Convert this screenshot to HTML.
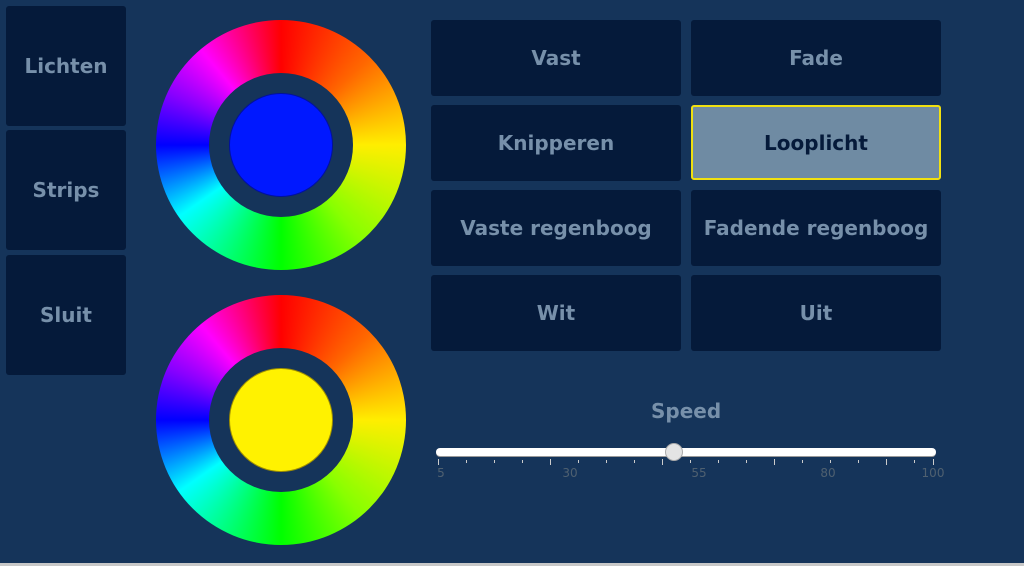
<!DOCTYPE html>
<html><head><style>
body{margin:0;width:1024px;height:566px;background:#15345a;position:relative;overflow:hidden;font-family:"DejaVu Sans","Liberation Sans",sans-serif;font-weight:bold;}
.b{position:absolute;background:#051a3a;border-radius:3px;color:#7790aa;font-size:20px;display:flex;align-items:center;justify-content:center;box-sizing:border-box;}
.w{position:absolute;width:250px;height:250px;border-radius:50%;background:conic-gradient(#f00,#f60 45deg,#fe0 90deg,#8f0 140deg,#0f0 180deg,#0ff 235deg,#00f 270deg,#80f 295deg,#f0f 320deg,#f00 360deg);}
.w::before{content:"";position:absolute;left:53px;top:53px;width:144px;height:144px;border-radius:50%;background:#15345a;}
.c{position:absolute;width:104px;height:104px;border-radius:50%;}
.t{position:absolute;font-size:12px;font-weight:normal;color:#4f6070;transform:translateX(-50%);}
</style></head><body>
<div class="b" style="left:6px;top:6px;width:120px;height:120px">Lichten</div>
<div class="b" style="left:6px;top:130px;width:120px;height:120px">Strips</div>
<div class="b" style="left:6px;top:255px;width:120px;height:120px">Sluit</div>
<div class="w" style="left:156px;top:20px"></div>
<div class="c" style="left:229px;top:93px;background:#0018ff;border:1px solid #0010a0;box-sizing:border-box"></div>
<div class="w" style="left:156px;top:295px"></div>
<div class="c" style="left:229px;top:368px;background:#fff200;border:1px solid #a09000;box-sizing:border-box"></div>
<div class="b" style="left:431px;top:20px;width:250px;height:76px">Vast</div>
<div class="b" style="left:691px;top:20px;width:250px;height:76px">Fade</div>
<div class="b" style="left:431px;top:105px;width:250px;height:76px">Knipperen</div>
<div class="b" style="left:691px;top:105px;width:250px;height:75px;background:#6f8ba3;border:2px solid #f0e010;color:#051a3a">Looplicht</div>
<div class="b" style="left:431px;top:190px;width:250px;height:76px">Vaste regenboog</div>
<div class="b" style="left:691px;top:190px;width:250px;height:76px">Fadende regenboog</div>
<div class="b" style="left:431px;top:275px;width:250px;height:76px">Wit</div>
<div class="b" style="left:691px;top:275px;width:250px;height:76px">Uit</div>
<div style="position:absolute;left:651px;top:399px;font-size:20px;color:#7790aa">Speed</div>
<div style="position:absolute;left:436px;top:448px;width:500px;height:8px;border-radius:4px;background:#fff;box-shadow:0 1px 0 #999"></div>
<div style="position:absolute;left:665px;top:443px;width:18px;height:18px;border-radius:50%;background:#e4e4e4;border:1px solid #aaa;box-sizing:border-box"></div>
<svg style="position:absolute;left:0;top:0" width="1024" height="566">
<g stroke="#ccc" stroke-width="1">
<line x1="438.5" y1="459" x2="438.5" y2="465"/><line x1="550.5" y1="459" x2="550.5" y2="465"/><line x1="662.5" y1="459" x2="662.5" y2="465"/><line x1="774.5" y1="459" x2="774.5" y2="465"/><line x1="886.5" y1="459" x2="886.5" y2="465"/><line x1="933.5" y1="459" x2="933.5" y2="465"/>
<line x1="466.5" y1="460" x2="466.5" y2="463"/><line x1="494.5" y1="460" x2="494.5" y2="463"/><line x1="522.5" y1="460" x2="522.5" y2="463"/><line x1="578.5" y1="460" x2="578.5" y2="463"/><line x1="606.5" y1="460" x2="606.5" y2="463"/><line x1="634.5" y1="460" x2="634.5" y2="463"/><line x1="690.5" y1="460" x2="690.5" y2="463"/><line x1="718.5" y1="460" x2="718.5" y2="463"/><line x1="746.5" y1="460" x2="746.5" y2="463"/><line x1="802.5" y1="460" x2="802.5" y2="463"/><line x1="830.5" y1="460" x2="830.5" y2="463"/><line x1="858.5" y1="460" x2="858.5" y2="463"/><line x1="914.5" y1="460" x2="914.5" y2="463"/>
</g></svg>
<div class="t" style="left:441px;top:466px">5</div>
<div class="t" style="left:570px;top:466px">30</div>
<div class="t" style="left:699px;top:466px">55</div>
<div class="t" style="left:828px;top:466px">80</div>
<div class="t" style="left:933px;top:466px">100</div>
<div style="position:absolute;left:0;top:563px;width:1024px;height:3px;background:#c8c8c8"></div>
</body></html>
